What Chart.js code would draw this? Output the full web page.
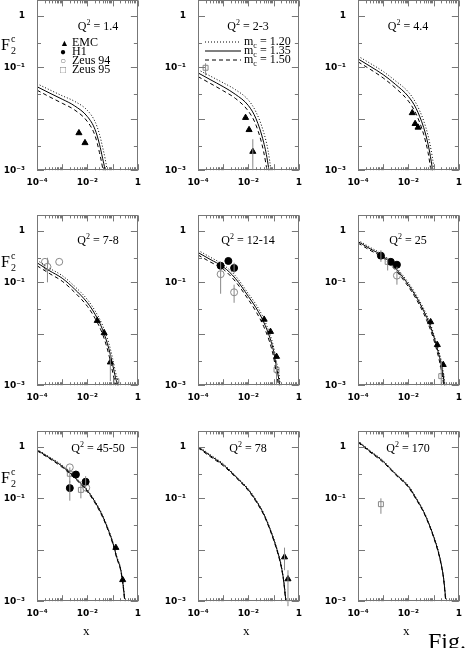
<!DOCTYPE html>
<html><head><meta charset="utf-8">
<script src="https://cdn.jsdelivr.net/npm/chart.js@4.4.1/dist/chart.umd.min.js"></script>
<style>
body{margin:0;background:#fff;width:474px;height:648px;overflow:hidden;position:relative;font-family:"Liberation Serif",serif}
.c{position:absolute}
.t{position:absolute;font-family:"Liberation Serif",serif;color:#000;white-space:nowrap}
.q{font-size:12px}
.F{font-size:16px}
.F sup,.F sub{font-size:10px;position:absolute;left:10px}
.F sup{top:-3px}.F sub{top:9px}
.lg{font-size:12px;line-height:9px}
</style></head><body>
<script>
// ---------- data ----------
const panelTitles=["1.4","2-3","4.4","7-8","12-14","25","45-50","78","170"];
const xTickLabels={"0.0001":"10⁻⁴","0.01":"10⁻²","1":"1"};
const yTickLabels={"1":"1","0.1":"10⁻¹","0.001":"10⁻³"};
const gA=[1e-4,3e-4,1e-3,3e-3,1e-2,2e-2,3e-2,4e-2,5e-2,6e-2,7e-2];
const gB=[1e-4,3e-4,1e-3,3e-3,1e-2,2e-2,4e-2,6e-2,8e-2,0.1];
const gC=[1e-4,3e-4,1e-3,3e-3,1e-2,2e-2,4e-2,6e-2,8e-2,0.1,0.12];
const gD=[1e-4,3e-4,1e-3,3e-3,1e-2,2e-2,4e-2,7e-2,0.1,0.13,0.16,0.2];
const gE=[1e-4,3e-4,1e-3,3e-3,1e-2,2e-2,4e-2,7e-2,0.1,0.15,0.2,0.25,0.3];
const curveX=[gA,gB,gC,gD,gD,gE,gE,gE,gE];
const m120=[
[0.048,0.037,0.028,0.022,0.0145,0.0088,0.005,0.0028,0.0017,0.001,0.0005],
[0.090,0.068,0.050,0.037,0.023,0.0135,0.0055,0.0024,0.0009,0.0003],
[0.165,0.12,0.083,0.055,0.033,0.020,0.0092,0.0047,0.0024,0.0012,0.0005],
[0.27,0.19,0.135,0.085,0.046,0.028,0.0145,0.0066,0.0033,0.0018,0.0012,0.0005],
[0.42,0.31,0.22,0.135,0.060,0.037,0.020,0.010,0.0055,0.0028,0.0017,0.0007],
[0.66,0.48,0.34,0.205,0.098,0.058,0.031,0.017,0.010,0.0052,0.003,0.0016,0.0008],
[0.90,0.645,0.44,0.27,0.146,0.089,0.047,0.024,0.0147,0.0071,0.0047,0.0025,0.0012],
[1.04,0.71,0.47,0.28,0.152,0.094,0.052,0.027,0.0167,0.0089,0.005,0.0026,0.0012],
[1.32,0.85,0.54,0.31,0.177,0.104,0.057,0.030,0.0188,0.0099,0.0054,0.0028,0.0012]];
const m135=[
[0.042,0.032,0.024,0.018,0.011,0.0062,0.0032,0.0017,0.001,0.0005,0.0002],
[0.078,0.058,0.042,0.030,0.018,0.010,0.0035,0.0013,0.0004,0.0001],
[0.146,0.105,0.072,0.047,0.027,0.016,0.0068,0.0032,0.0015,0.0007,0.0003],
[0.24,0.17,0.12,0.075,0.040,0.024,0.012,0.0052,0.0025,0.0014,0.0009,0.0003],
[0.38,0.28,0.20,0.12,0.053,0.032,0.017,0.0085,0.0045,0.0022,0.0013,0.0005],
[0.62,0.45,0.32,0.19,0.09,0.053,0.028,0.015,0.009,0.0045,0.0025,0.0013,0.0006],
[0.87,0.62,0.42,0.26,0.14,0.085,0.045,0.023,0.014,0.0068,0.0045,0.0024,0.0011],
[1.0,0.68,0.45,0.27,0.146,0.09,0.05,0.026,0.016,0.0085,0.0048,0.0025,0.0011],
[1.27,0.82,0.52,0.30,0.17,0.10,0.055,0.029,0.018,0.0095,0.0052,0.0027,0.0011]];
const m150=[
[0.036,0.027,0.020,0.015,0.0088,0.0047,0.0022,0.0011,0.0005,0.0002,0.0001],
[0.066,0.049,0.035,0.025,0.014,0.0075,0.0023,0.0007,0.0002,0.0001],
[0.128,0.092,0.062,0.040,0.022,0.0125,0.005,0.0022,0.0009,0.0004,0.0002],
[0.21,0.15,0.105,0.065,0.034,0.020,0.0098,0.004,0.0018,0.001,0.0006,0.0002],
[0.34,0.25,0.18,0.105,0.046,0.027,0.014,0.0068,0.0035,0.0016,0.0009,0.0003],
[0.58,0.42,0.30,0.175,0.082,0.048,0.025,0.013,0.0078,0.0038,0.002,0.001,0.0004],
[0.84,0.60,0.40,0.25,0.134,0.081,0.043,0.022,0.0133,0.0065,0.0043,0.0023,0.001],
[0.96,0.65,0.43,0.26,0.14,0.086,0.048,0.025,0.0153,0.0081,0.0046,0.0024,0.001],
[1.22,0.79,0.50,0.29,0.163,0.096,0.053,0.028,0.0172,0.0091,0.005,0.0026,0.001]];
// measurements per panel: [x, y, errLow, errHigh]
const emc=[
[[0.0046,0.0053],[0.008,0.0034]],
[[0.0077,0.0105],[0.0106,0.0061],[0.0149,0.0023,0.001,0.004]],
[[0.0142,0.013],[0.0184,0.008],[0.024,0.0068]],
[[0.0245,0.018],[0.046,0.0104],[0.081,0.0028,0.0012,0.004]],
[[0.042,0.019],[0.075,0.011],[0.13,0.0036]],
[[0.076,0.017],[0.14,0.0061],[0.24,0.0025]],
[[0.134,0.011],[0.25,0.0026]],
[[0.27,0.0072,0.004,0.011],[0.37,0.0027,0.0008,0.004]],
[]];
const h1=[[],[],[],[],
[[7.9e-4,0.21],[1.6e-3,0.26],[2.7e-3,0.19,0.15,0.24]],
[[8.1e-4,0.33,0.25,0.42],[2.0e-3,0.25],[3.5e-3,0.22]],
[[2.0e-3,0.158,0.09,0.22],[3.5e-3,0.29],[8.5e-3,0.21,0.15,0.27]],
[],[]];
const zeus94=[[],[],[],
[[2.07e-4,0.25],[7.6e-4,0.25],[2.6e-4,0.2,0.1,0.3]],
[[7.9e-4,0.144,0.06,0.25],[2.7e-3,0.064,0.04,0.09]],
[[3.5e-3,0.135,0.09,0.2]],
[[2.0e-3,0.40],[9e-3,0.16]],
[],[]];
const zeus95=[[],[[2e-4,0.098,0.07,0.12]],[],
[[0.14,0.0012]],
[[0.13,0.002,0.001,0.003]],
[[1.5e-3,0.25,0.17,0.3],[0.2,0.0015,0.001,0.003]],
[[2.0e-3,0.30,0.2,0.4],[5.5e-3,0.146,0.1,0.2]],
[],
[[8.1e-4,0.077,0.05,0.1]]];
// ---------- layout ----------
const colL=[37,198,358], rowT=[0,215,431];
const PW=101, PH=170, AX=37, XB=26, PR=8, PT=3;

const tickPlugin={id:'ticks',afterDatasetsDraw(ch){
  const c=ch.ctx,a=ch.chartArea,xs=ch.scales.x,ys=ch.scales.y;
  c.save();c.strokeStyle='#777';c.lineWidth=1;
  c.strokeRect(Math.round(a.left)+0.5,Math.round(a.top)+0.5,Math.round(a.right-a.left)-1,Math.round(a.bottom-a.top)-1);
  for(let d=-4;d<=0;d++)for(let m=1;m<10;m++){
    const v=m*Math.pow(10,d); if(v>1)break;
    const px=Math.round(xs.getPixelForValue(v))+0.5, L=m==1?6:3;
    c.beginPath();c.moveTo(px,a.bottom);c.lineTo(px,a.bottom-L);c.moveTo(px,a.top);c.lineTo(px,a.top+L);c.stroke();}
  for(let d=-3;d<=0;d++)for(const m of [1,3]){
    const v=m*Math.pow(10,d); if(v>2)break;
    const py=Math.round(ys.getPixelForValue(v))+0.5, L=m==1?7:4;
    c.beginPath();c.moveTo(a.left,py);c.lineTo(a.left+L,py);c.moveTo(a.right,py);c.lineTo(a.right-L,py);c.stroke();}
  c.strokeStyle='#888';
  ch.data.datasets.forEach(ds=>{(ds.err||[]).forEach(e=>{if(e[2]===undefined)return;
    const px=xs.getPixelForValue(e[0]);
    c.beginPath();c.moveTo(px,ys.getPixelForValue(e[2]));c.lineTo(px,ys.getPixelForValue(e[3]));c.stroke();});});
  c.restore();
}};
Chart.register(tickPlugin);

function pts(arr){return arr.map(p=>({x:p[0],y:p[1]}));}
function makeConfig(i){
  const line=(ys,dash)=>({type:'line',data:curveX[i].map((x,j)=>({x,y:ys[i][j]})),borderColor:'#000',borderWidth:1,borderDash:dash,pointRadius:0,cubicInterpolationMode:'monotone',fill:false});
  const sc=(d,style,fillc,stroke,rad)=>({type:'scatter',data:pts(d[i]),err:d[i],pointStyle:style,backgroundColor:fillc,borderColor:stroke,borderWidth:1,pointRadius:rad});
  return {data:{datasets:[
    line(m120,[1,2]),line(m135,[]),line(m150,[4,3]),
    sc(emc,'triangle','#000','#000',3.5),sc(h1,'circle','#000','#000',3.5),
    sc(zeus94,'circle','#fff','#888',3.5),sc(zeus95,'rect','#fff','#888',3.5)]},
   options:{responsive:false,maintainAspectRatio:false,animation:false,devicePixelRatio:1,
    layout:{padding:{top:PT,right:PR,left:0,bottom:0}},
    plugins:{legend:{display:false},tooltip:{enabled:false}},
    scales:{
     x:{type:'logarithmic',min:1e-4,max:1,
       afterBuildTicks(s){s.ticks=[1e-4,1e-3,1e-2,1e-1,1].map(v=>({value:v}));},
       grid:{display:false,drawTicks:false},border:{display:false},
       ticks:{autoSkip:false,maxRotation:0,padding:7,color:'#000',font:{family:'DejaVu Sans',weight:'bold',size:9},callback:v=>xTickLabels[String(v)]||''}},
     y:{type:'logarithmic',min:0.001,max:2,
       afterBuildTicks(s){s.ticks=[1e-3,1e-2,1e-1,1].map(v=>({value:v}));},
       afterFit(s){s.width=AX;},
       grid:{display:false,drawTicks:false},border:{display:false},
       ticks:{autoSkip:false,padding:12,color:'#000',font:{family:'DejaVu Sans',weight:'bold',size:9},callback:v=>yTickLabels[String(v)]||''}}
    }}};
}
function place(i,W,H){
  const r=Math.floor(i/3),k=i%3;
  const cv=document.createElement('canvas');cv.className='c';
  cv.style.width=W+'px';cv.style.height=H+'px';cv.width=W;cv.height=H;
  document.body.appendChild(cv);
  const ch=new Chart(cv,makeConfig(i));
  return {cv,ch,r,k};
}
for(let i=0;i<9;i++){
  let W=AX+PW+PR,H=PT+PH+XB;
  let o=place(i,W,H), a=o.ch.chartArea;
  const nW=W+(PW-(a.right-a.left)), nH=H+(PH-(a.bottom-a.top));
  o.ch.destroy();o.cv.remove();
  o=place(i,nW,nH); a=o.ch.chartArea;
  o.cv.style.left=(colL[o.k]-a.left)+'px';o.cv.style.top=(rowT[o.r]-a.top)+'px';
}
</script>
<script>
const qPos=[[98,18],[248,18],[408,18],[98,232],[248,232],[408,232],[98,440],[248,440],[408,440]];
qPos.forEach((p,i)=>{const d=document.createElement('div');d.className='t q';
 d.innerHTML='Q<sup style="font-size:8px">2</sup> = '+panelTitles[i];
 d.style.left=p[0]+'px';d.style.top=p[1]+'px';d.style.transform='translateX(-50%)';document.body.appendChild(d);});
[36,253,469].forEach(y=>{const d=document.createElement('div');d.className='t F';
 d.innerHTML='F<sup>c</sup><sub>2</sub>';d.style.left='1px';d.style.top=y+'px';document.body.appendChild(d);});
[86,246,406].forEach(x=>{const d=document.createElement('div');d.className='t';d.style.fontSize='13px';
 d.textContent='x';d.style.left=(x-3)+'px';d.style.top='623px';document.body.appendChild(d);});
</script>
<div class="t lg" style="left:60px;top:38px">
<div style="height:9px"><span style="display:inline-block;width:12px;font-size:9px">▲</span>EMC</div>
<div style="height:9px"><span style="display:inline-block;width:12px;font-size:10px">●</span>H1</div>
<div style="height:9px"><span style="display:inline-block;width:12px;font-size:10px;color:#777">○</span>Zeus 94</div>
<div style="height:9px"><span style="display:inline-block;width:12px;font-size:10px;color:#777">□</span>Zeus 95</div>
</div>
<div class="t lg" style="left:205px;top:37px">
<div style="height:9px"><svg width="36" height="8"><line x1="0" y1="5" x2="36" y2="5" stroke="#000" stroke-dasharray="1,2"/></svg> m<sub style="font-size:8px">c</sub> = 1.20</div>
<div style="height:9px"><svg width="36" height="8"><line x1="0" y1="5" x2="36" y2="5" stroke="#000"/></svg> m<sub style="font-size:8px">c</sub> = 1.35</div>
<div style="height:9px"><svg width="36" height="8"><line x1="0" y1="5" x2="36" y2="5" stroke="#000" stroke-dasharray="4,3"/></svg> m<sub style="font-size:8px">c</sub> = 1.50</div>
</div>
<div class="t" style="left:428px;top:628px;font-size:24px">Fig.</div>
</body></html>
